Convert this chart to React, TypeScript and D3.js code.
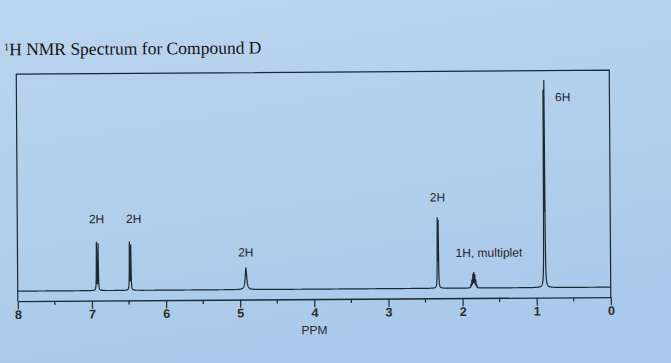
import { useEffect, useRef } from 'react';
import * as d3 from 'd3';

// peak list (ppm, relative height, half width in ppm)
const peakPpm = [6.935, 6.913, 6.49, 6.472, 4.92, 2.335, 2.323, 1.885, 1.872, 1.859, 1.846, 1.833, 1.82, 1.807, 0.896, 0.884];
const peakHeight = [23, 23, 23.5, 22, 10.5, 33, 32, 1.5, 3.5, 6, 7.1, 6, 3.5, 1.5, 90, 95];
const peakWidth = [0.003, 0.003, 0.003, 0.003, 0.012, 0.003, 0.003, 0.003, 0.003, 0.003, 0.003, 0.003, 0.003, 0.003, 0.003, 0.003];

const labelText = ['2H', '2H', '2H', '2H', '1H, multiplet', '6H'];
const labelPpm = [6.93, 6.43, 4.92, 2.33, 1.64, 0.63];
const labelLevel = [34.5, 34.5, 18, 44, 17, 92];

const majorTicks = [8, 7, 6, 5, 4, 3, 2, 1, 0];
const minorTicks = [7.5, 6.5, 5.5, 4.5, 3.5, 2.5, 1.5, 0.5];

const W = 671;
const H = 363;

export default function App() {
    const svgRef = useRef<SVGSVGElement>(null);

    useEffect(() => {
        if (!svgRef.current) return;
        const svg = d3.select(svgRef.current);
        svg.selectAll('*').remove();

        const left = 17, right = 610, top = 72, base = 289, axisY = 299;
        const ink = '#1d2836';

        const x = d3.scaleLinear().domain([8, 0]).range([left, right]);
        const y = d3.scaleLinear().domain([0, 105]).range([base, top]);

        const defs = svg.append('defs');
        const grad = defs.append('linearGradient').attr('id', 'paper')
            .attr('x1', 0).attr('y1', 0).attr('x2', 0.3).attr('y2', 1);
        grad.append('stop').attr('offset', 0).attr('stop-color', '#bcd5ef');
        grad.append('stop').attr('offset', 1).attr('stop-color', '#abc9ea');

        svg.append('rect').attr('width', W).attr('height', H).attr('fill', 'url(#paper)');

        // the photo is tilted a little
        const g = svg.append('g').attr('transform', `rotate(-0.39 ${W / 2} ${H / 2})`);

        g.append('text')
            .attr('x', 5).attr('y', 53)
            .attr('font-family', 'Liberation Serif, serif')
            .attr('font-size', 17.5)
            .attr('fill', '#141414')
            .call(t => {
                t.append('tspan').attr('font-size', 10).attr('dy', -5).text('1');
                t.append('tspan').attr('dy', 5).text('H NMR Spectrum for Compound D');
            });

        // frame
        g.append('path')
            .attr('d', `M${left},${axisY}V${top}H${right}V${axisY}`)
            .attr('fill', 'none').attr('stroke', ink).attr('stroke-width', 1.2);

        // spectrum trace built from the peak list
        const grid = d3.range(8, -0.0001, -0.0015);
        const trace = grid.map(p => {
            let v = 0;
            peakPpm.forEach((c, i) => {
                const w = peakWidth[i];
                v += peakHeight[i] * (w * w) / ((p - c) * (p - c) + w * w);
            });
            return [p, v] as [number, number];
        });
        const line = d3.line<[number, number]>().x(d => x(d[0])).y(d => y(d[1]));
        g.append('path').attr('d', line(trace)!)
            .attr('fill', 'none').attr('stroke', ink).attr('stroke-width', 1.2)
            .attr('stroke-linejoin', 'round');

        // ppm axis
        const axis = g.append('g').attr('transform', `translate(0,${axisY})`)
            .call(d3.axisBottom(x).tickValues(majorTicks).tickSize(8).tickSizeOuter(0).tickPadding(1)
                .tickFormat(d3.format('d')));
        axis.select('.domain').attr('stroke', ink).attr('stroke-width', 1.4);
        axis.selectAll('.tick line').attr('stroke', ink).attr('stroke-width', 1.2);
        axis.selectAll('.tick text')
            .attr('fill', '#2a2a2a').attr('font-size', 12.5).attr('font-weight', 'bold')
            .attr('font-family', 'Liberation Sans, Arial, sans-serif');
        g.append('g').selectAll('line').data(minorTicks).join('line')
            .attr('x1', d => x(d)).attr('x2', d => x(d))
            .attr('y1', axisY).attr('y2', axisY + 4)
            .attr('stroke', ink).attr('stroke-width', 1.2);

        g.append('text')
            .attr('x', x(4)).attr('y', 334)
            .attr('text-anchor', 'middle')
            .attr('font-family', 'Liberation Sans, Arial, sans-serif')
            .attr('font-size', 12).attr('fill', '#2a2a2a')
            .text('PPM');

        // integration labels
        g.append('g').selectAll('text').data(labelText).join('text')
            .attr('x', (_, i) => x(labelPpm[i]))
            .attr('y', (_, i) => y(labelLevel[i]))
            .attr('text-anchor', 'middle')
            .attr('dominant-baseline', 'central')
            .attr('font-family', 'Liberation Sans, Arial, sans-serif')
            .attr('font-size', 12).attr('fill', '#262626')
            .text(d => d);
    }, []);

    return (
        <svg ref={svgRef} width={W} height={H}
            style={{ position: 'fixed', left: 0, top: 0, display: 'block' }} />
    );
}
